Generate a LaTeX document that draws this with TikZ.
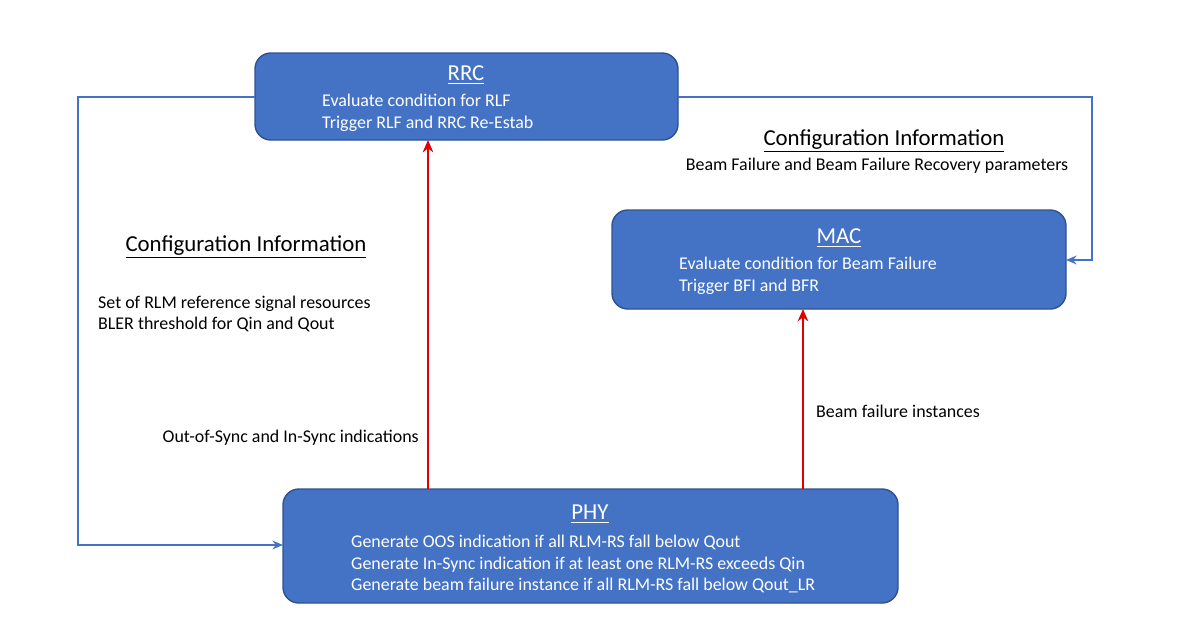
\documentclass[tikz,border=0pt]{standalone}
\usepackage{fontspec}
\setmainfont{Carlito}
\usetikzlibrary{arrows.meta,positioning}
\definecolor{boxblue}{HTML}{4472C4}
\definecolor{boxedge}{HTML}{2F528F}
\definecolor{arrred}{HTML}{E00000}
\tikzset{
  layer/.style={draw=boxedge,fill=boxblue,rounded corners=9pt,line width=0.8pt},
  head/.style={text=white,font=\fontsize{13}{15}\selectfont},
  body/.style={text=white,align=left,anchor=west,font=\fontsize{10.2}{12.2}\selectfont},
  note/.style={font=\fontsize{10.2}{12.2}\selectfont,align=left},
  cfg/.style={font=\fontsize{13}{15}\selectfont},
  cfgline/.style={boxblue,line width=1.4pt,-{Stealth[length=6pt,width=5pt]}},
  ind/.style={arrred,line width=1.6pt,-{Stealth[length=7pt,width=6pt]}}
}
\begin{document}
\begin{tikzpicture}[x=0.02cm,y=-0.02cm]
\useasboundingbox (0,0) rectangle (1200,630);

% layer boxes
\draw [layer] (255,53) rectangle (678,140);
\draw [layer] (612,210) rectangle (1066,309);
\draw [layer] (283,489) rectangle (898,603);
\coordinate (rrcL) at (255,97);
\coordinate (rrcR) at (678,97);
\coordinate (macR) at (1066,260);
\coordinate (phyL) at (283,545);

% box texts
\node [head] (rrc) at (466,75) {\underline{RRC}};
\node [body] (rrctxt) at (316,113) {Evaluate condition for RLF\\Trigger RLF and RRC Re-Estab};
\node [head] (mac) at (839,238) {\underline{MAC}};
\node [body] (mactxt) at (673,276) {Evaluate condition for Beam Failure\\Trigger BFI and BFR};
\node [head] (phy) at (590,514) {\underline{PHY}};
\node [body] (phytxt) at (345,564) {Generate OOS indication if all RLM-RS fall below Qout\\Generate In-Sync indication if at least one RLM-RS exceeds Qin\\Generate beam failure instance if all RLM-RS fall below Qout\_LR};

% configuration paths
\draw [cfgline] (rrcL) -- (78,97) -- (78,545) -- (phyL);
\draw [cfgline] (rrcR) -- (1092,97) -- (1092,260) -- (macR);

% indications
\coordinate (phyA) at (428,489);
\coordinate (rrcB) at (428,140);
\coordinate (phyB) at (803,489);
\coordinate (macB) at (803,309);
\draw [ind] (phyA) -- (rrcB);
\draw [ind] (phyB) -- (macB);

% labels
\node [cfg] (cfgL) at (246,247) {\underline{Configuration Information}};
\node [note,anchor=west] (rlm) at (92,314) {Set of RLM reference signal resources\\BLER threshold for Qin and Qout};
\node [note,anchor=east] (oos) at (425,438) {Out-of-Sync and In-Sync indications};
\node [note,anchor=west] (bfi) at (810,411) {Beam failure instances};
\node [cfg] (cfgR) at (884,141) {\underline{Configuration Information}};
\node [note] (bfr) at (877,166) {Beam Failure and Beam Failure Recovery parameters};
\end{tikzpicture}
\end{document}
